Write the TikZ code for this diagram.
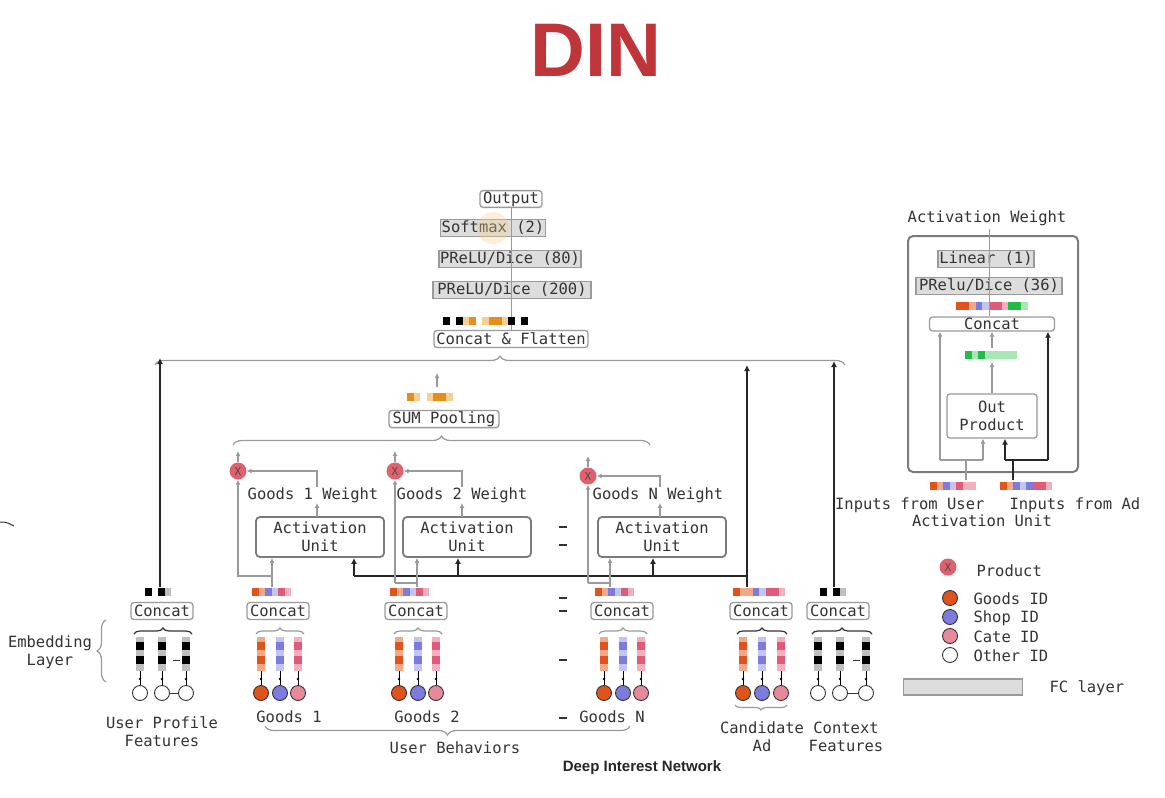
\documentclass[tikz,border=0pt]{standalone}
\usepackage{fontspec}
\setmainfont{DejaVu Sans Mono}
\newfontfamily\titlef{Liberation Sans}
\usetikzlibrary{decorations.pathreplacing,arrows.meta}
\definecolor{tx}{HTML}{333333}
\definecolor{ln}{HTML}{9A9A9A}
\definecolor{fcg}{HTML}{DDDDDD}
\definecolor{og}{HTML}{E0541B}
\definecolor{ogl}{HTML}{F2A98A}
\definecolor{bl}{HTML}{7B7BE0}
\definecolor{bll}{HTML}{C4C4F2}
\definecolor{pk}{HTML}{DF5C78}
\definecolor{pkl}{HTML}{F2B0BE}
\definecolor{pkc}{HTML}{E8899B}
\definecolor{gr}{HTML}{22BB44}
\definecolor{grl}{HTML}{A8E6B4}
\definecolor{yo}{HTML}{E58E1A}
\definecolor{yol}{HTML}{F5CF93}
\definecolor{din}{HTML}{C0353A}
\definecolor{xr}{HTML}{E0606E}
\newcommand\cbar[3]{\foreach \c [count=\i] in {#3} \fill[\c] ({#1+(\i-1)*6.5},#2-4) rectangle ++(6.6,8);}
\newcommand\emb[5]{%
 \fill[#3] (#1-4,637) rectangle (#1+4,671);
 \fill[#2] (#1-4,642) rectangle (#1+4,650);
 \fill[#2] (#1-4,656) rectangle (#1+4,664);
 \node[idc,fill=#4] (#5) at (#1,693) {};
 \fill (#1,679) circle (1.3);
 \draw[line width=0.6pt] (#5) -- (#1,671);}
\begin{document}
\begin{tikzpicture}[x=1pt,y=-1pt,
 every node/.style={text=tx,font=\fontsize{15.5}{18}\selectfont},
 wbox/.style={draw=ln,line width=1.3pt,rounded corners=3,fill=white,inner sep=1pt,minimum height=17},
 gbox/.style={draw=ln,line width=1.1pt,fill=fcg,inner sep=1pt,minimum height=17},
 ubox/.style={draw=ln!80!black,line width=1.8pt,rounded corners=4,fill=white,minimum width=128,minimum height=40,align=center,font=\fontsize{15.5}{18}\selectfont},
 idc/.style={circle,draw=tx,line width=0.9pt,minimum size=15,inner sep=0},
 xc/.style={circle,fill=xr,minimum size=17,inner sep=0,font=\fontsize{11}{11}\selectfont,text=black!70},
 ga/.style={draw=ln,line width=1.2pt,-{Latex[length=5,width=5]}},
 ka/.style={draw=black!85,line width=1.8pt,-{Latex[length=6,width=6]}},
 br/.style={draw=ln,line width=1.2pt,decorate,decoration={brace,amplitude=9}},
 kbr/.style={draw=tx,line width=1.2pt,decorate,decoration={brace,amplitude=6}}]
\useasboundingbox (0,0) rectangle (1165,798);
\node[font=\titlef\bfseries\fontsize{76}{76}\selectfont,text=din] (title) at (596,50) {DIN};
% top stack
\node[wbox,minimum width=62,minimum height=15] (out) at (511,199) {Output};
\node[gbox,minimum width=76] (soft) at (493,228) {Softmax (2)};
\node[gbox,minimum width=140] (pr80) at (510,259) {PReLU/Dice (80)};
\node[gbox,minimum width=158] (pr200) at (512,290) {PReLU/Dice (200)};
\node[wbox,minimum width=154] (cf) at (511,339) {Concat \& Flatten};
\draw[ln,line width=1pt] (cf.north) -- (out.south);
\cbar{443}{321}{black,white,black,yol,yo,white,yol,yo,yo,yol,black,white,black,white}
\fill[yol,opacity=.35] (493,228) circle (16);
\draw[br] (155,365) -- (845,365);
% sum pooling
\node[wbox,minimum width=110] (sum) at (444,419) {SUM Pooling};
\cbar{407}{397}{yo,yol,white,yol,yo,yo,yol}
\coordinate (s1) at (437,387);
\draw[ga] (s1) -- (437,373);
\draw[br] (233,445) -- (650,445);
% product circles and AUs
\node[xc] (x1) at (238,471) {X};
\node[xc] (x2) at (395,471) {X};
\node[xc] (x3) at (588,476) {X};
\node (w1) at (313,495) {Goods 1 Weight};
\node (w2) at (462,495) {Goods 2 Weight};
\node (w3) at (658,495) {Goods N Weight};
\node[ubox] (a1) at (320,537) {Activation\\Unit};
\node[ubox] (a2) at (467,537) {Activation\\Unit};
\node[ubox] (a3) at (662,537) {Activation\\Unit};
\foreach \a/\x/\w/\c in {a1/317/w1/x1,a2/462/w2/x2,a3/660/w3/x3}{
 \draw[ga] (\x,517) -- (\x,503);
 \draw[ga] (\x,487) |- (\c);
 \draw[ga] (\c) -- ++(0,-20);}
\foreach \y in {527,545,598,611,660,718} \draw[tx,line width=1.3pt] (559,\y) -- (567,\y);
% concat groups
\node[wbox,minimum width=62] (cu) at (162,611) {Concat};
\node[wbox,minimum width=62] (c1) at (278,611) {Concat};
\node[wbox,minimum width=62] (c2) at (416,611) {Concat};
\node[wbox,minimum width=62] (c3) at (622,611) {Concat};
\node[wbox,minimum width=62] (cc) at (761,611) {Concat};
\node[wbox,minimum width=62] (cx) at (838,611) {Concat};
\cbar{145}{592}{black,white,black,black!25}
\cbar{252}{592}{og,ogl,bl,bll,pk,pkl}
\cbar{390}{592}{og,ogl,bl,bll,pk,pkl}
\cbar{595}{592}{og,ogl,bl,bll,pk,pkl}
\cbar{733}{592}{og,ogl,ogl,bl,bll,pk,pk,pkl}
\cbar{820}{592}{black,white,black,black!25}
% black connections
\draw[ka] (160,587) -- (160,358);
\draw[ka] (747,587) -- (747,365);
\draw[ka] (834,587) -- (834,361);
\draw[black!85,line width=1.8pt] (747,576) -- (354,576);
\draw[ka] (354,576) -- (a1.south -| 354,0);
\draw[ka] (458,576) -- (a2.south -| 458,0);
\draw[ka] (653,576) -- (a3.south -| 653,0);
% gray connections
\draw[ga] (272,587) -- (a1.south -| 272,0);
\draw[ga] (272,576) -- (238,576) -- (x1);
\draw[ga] (417,587) -- (a2.south -| 417,0);
\draw[ln,line width=1.2pt] (417,583) -- (395,583);
\draw[ga] (395,583) -- (x2);
\draw[ga] (610,587) -- (a3.south -| 610,0);
\draw[ln,line width=1.2pt] (610,583) -- (588,583);
\draw[ga] (588,583) -- (x3);
% embeddings
\emb{140}{black}{black!25}{white}{u1}\emb{162}{black}{black!25}{white}{u2}\emb{186}{black}{black!25}{white}{u3}
\emb{261}{og}{ogl}{og}{g11}\emb{280}{bl}{bll}{bl}{g12}\emb{298}{pk}{pkl}{pkc}{g13}
\emb{399}{og}{ogl}{og}{g21}\emb{418}{bl}{bll}{bl}{g22}\emb{436}{pk}{pkl}{pkc}{g23}
\emb{604}{og}{ogl}{og}{g31}\emb{623}{bl}{bll}{bl}{g32}\emb{641}{pk}{pkl}{pkc}{g33}
\emb{743}{og}{ogl}{og}{d1}\emb{762}{bl}{bll}{bl}{d2}\emb{781}{pk}{pkl}{pkc}{d3}
\emb{818}{black}{black!25}{white}{e1}\emb{840}{black}{black!25}{white}{e2}\emb{866}{black}{black!25}{white}{e3}
\draw[tx,line width=1pt] (173,660) -- (180,660) (u2) -- (u3) (853,660) -- (860,660) (e2) -- (e3);
\draw[kbr] (134,634) -- (192,634);
\draw[br,decoration={amplitude=6}] (256,634) -- (304,634);
\draw[br,decoration={amplitude=6}] (394,634) -- (442,634);
\draw[br,decoration={amplitude=6}] (599,634) -- (647,634);
\draw[kbr] (737,634) -- (787,634);
\draw[kbr] (812,634) -- (872,634);
\draw[br,decoration={amplitude=5}] (787,705) -- (735,705);
\draw[br] (106,682) -- (106,620);
\draw[br] (630,726) -- (265,726);
% labels
\node[align=center] (lu) at (162,732) {User Profile\\Features};
\node (l1) at (289,717) {Goods 1};
\node (l2) at (427,717) {Goods 2};
\node (l3) at (612,717) {Goods N};
\node (lb) at (455,748) {User Behaviors};
\node[align=center] (lc) at (762,737) {Candidate\\Ad};
\node[align=center] (lx) at (846,737) {Context\\Features};
\node[align=center] (le) at (50,652) {Embedding\\Layer};
\node[font=\titlef\bfseries\fontsize{15}{17}\selectfont,text=black!85] (din) at (642,768) {Deep Interest Network};
\draw[tx,line width=1pt] (0,522) .. controls (6,522) .. (14,526);
% right panel
\draw[draw=ln!80!black,line width=2pt,rounded corners=5] (908,236) rectangle (1078,472);
\node (aw) at (987,218) {Activation Weight};
\node[gbox,minimum width=96] (lin) at (986,259) {Linear (1)};
\node[gbox,minimum width=146] (prd) at (989,286) {PRelu/Dice (36)};
\cbar{956}{306}{og,og,ogl,bl,bll,pk,pk,pkl,gr,gr,grl}
\node[wbox,minimum width=125,minimum height=14] (rc) at (992,324) {Concat};
\cbar{965}{355}{gr,grl,gr,grl,grl,grl,grl,grl}
\node[draw=ln,line width=1.3pt,rounded corners=3,minimum width=90,minimum height=44,align=center] (op) at (992,416) {Out\\Product};
\draw[ln,line width=1pt] (rc.north -| 989,0) -- (aw.south -| 989,0);
\draw[ga] (op.north) -- (992,362);
\draw[ga] (992,348) -- (rc.south -| 992,0);
\draw[ln,line width=1.2pt] (966,480) -- (966,460);
\draw[ln,line width=1.2pt] (940,460) -- (983,460);
\draw[ga] (940,460) -- (rc.south -| 940,0);
\draw[ga] (983,460) -- (op.south -| 983,0);
\draw[black!85,line width=1.5pt] (1013,480) -- (1013,460);
\draw[black!85,line width=1.5pt] (1005,460) -- (1048,460);
\draw[ka,line width=1.5pt] (1005,460) -- (op.south -| 1005,0);
\draw[ka,line width=1.5pt] (1048,460) -- (rc.south -| 1048,0);
\cbar{930}{486}{og,ogl,bl,bll,pk,pkl,pkl,white}
\cbar{1000}{486}{og,ogl,bl,bll,bl,pk,pk,pkl}
\node[anchor=east] (iu) at (988,505) {Inputs from User};
\node[anchor=west] (ia) at (1006,505) {Inputs from Ad};
\node (iau) at (982,521) {Activation Unit};
% legend
\node[xc] (lx1) at (948,567) {X};
\node[anchor=west] at (973,571) {Product};
\node[idc,fill=og] (lg) at (950,598) {};
\node[anchor=west] at (970,599) {Goods ID};
\node[idc,fill=bl] (ls) at (950,617) {};
\node[anchor=west] at (970,618) {Shop ID};
\node[idc,fill=pkc] (lca) at (950,636) {};
\node[anchor=west] at (970,637) {Cate ID};
\node[idc,fill=white] (lo) at (950,655) {};
\node[anchor=west] at (970,656) {Other ID};
\node[gbox,minimum width=119,minimum height=16] (lfc) at (963,687) {};
\node[anchor=west] at (1046,688) {FC layer};
\end{tikzpicture}
\end{document}
